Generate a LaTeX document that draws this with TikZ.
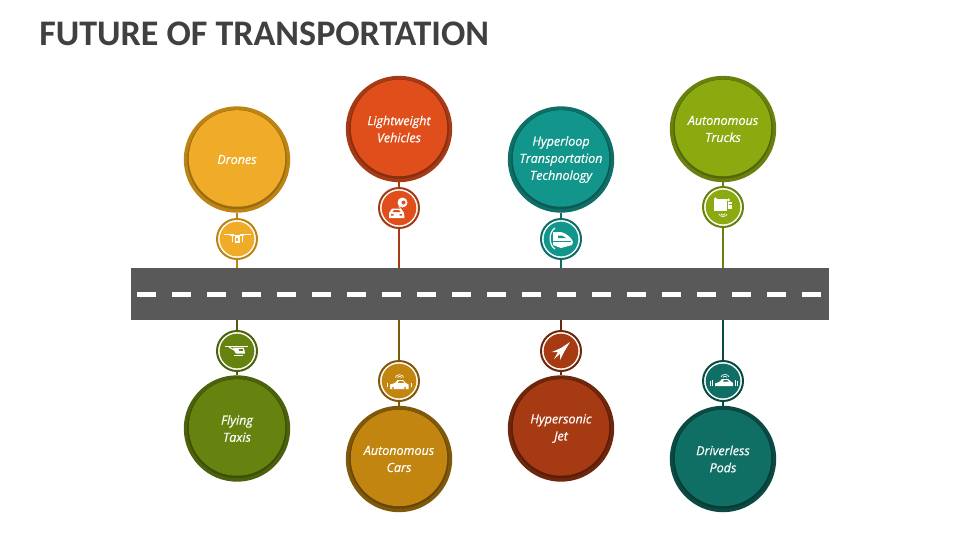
\documentclass[tikz,border=0pt]{standalone}
\usepackage{fontspec}
\setmainfont{Carlito}
\newfontfamily\labelfont[ItalicFeatures={FakeBold=0.35}]{Open Sans}
\usepackage{xcolor}
\usetikzlibrary{calc}
\definecolor{roadgrey}{HTML}{595959}
\definecolor{titlegrey}{HTML}{404040}
\definecolor{dronefill}{HTML}{F0AC28}
\definecolor{droneline}{HTML}{BE8413}
\definecolor{lightfill}{HTML}{DF4E1B}
\definecolor{lightline}{HTML}{A53A14}
\definecolor{loopfill}{HTML}{12958A}
\definecolor{loopline}{HTML}{0D6F67}
\definecolor{truckfill}{HTML}{8BAA10}
\definecolor{truckline}{HTML}{68800C}
\definecolor{taxifill}{HTML}{66830F}
\definecolor{taxiline}{HTML}{4C610B}
\definecolor{carfill}{HTML}{C2850F}
\definecolor{carline}{HTML}{80580A}
\definecolor{jetfill}{HTML}{A63A12}
\definecolor{jetline}{HTML}{6E260C}
\definecolor{podfill}{HTML}{0F6F65}
\definecolor{podline}{HTML}{0A4A43}
\tikzset{
  bigdisc/.style={circle,draw=#1line,fill=#1line!80!black,line width=2.6pt,minimum size=77.2pt,
    inner sep=0pt,align=center,text=white,font=\fontsize{9.4}{12.8}\labelfont\itshape,
    path picture={\fill[#1fill] ([yshift=0.8pt]path picture bounding box.center) circle (36.2pt);}},
  smalldisc/.style={circle,draw=#1line,fill=white,line width=1.5pt,minimum size=30pt,inner sep=0pt,
    path picture={\fill[#1fill] (path picture bounding box.center) circle (13pt);}},
  stem/.style={draw=#1line,line width=1.5pt},
  glyph/.style={fill=white,draw=none},
  glyphline/.style={draw=white,line width=0.5pt}
}
\begin{document}
\begin{tikzpicture}[x=0.75pt,y=-0.75pt]
  \useasboundingbox (0,0) rectangle (960,540);
  \node[anchor=west,text=titlegrey,font=\fontsize{27}{30}\selectfont\bfseries,inner sep=0pt] (title) at (39,34) {FUTURE OF TRANSPORTATION};
  % road
  \node[fill=roadgrey,minimum width=523.5pt,minimum height=39pt,inner sep=0pt] (road) at (480,294) {};
  \coordinate (dashstart) at (137,294.5);
  \coordinate (dashend) at (824,294.5);
  \draw[white,line width=3.75pt,dash pattern=on 14.25pt off 12pt] (dashstart) -- (dashend);
  % upper row
  \node[smalldisc=drone] (droneicon) at (237,239) {};
  \node[smalldisc=light] (lighticon) at (399,208) {};
  \node[smalldisc=loop] (loopicon) at (561,239) {};
  \node[smalldisc=truck] (truckicon) at (723,207) {};
  \node[bigdisc=drone] (drones) at (237,159.5) {Drones};
  \node[bigdisc=light] (lightweight) at (399,129) {Lightweight\\Vehicles};
  \node[bigdisc=loop] (hyperloop) at (561,159.5) {Hyperloop\\Transportation\\Technology};
  \node[bigdisc=truck] (trucks) at (723,129) {Autonomous\\Trucks};
  \draw[stem=drone] (drones) -- (droneicon);
  \draw[stem=drone] (droneicon) -- (droneicon |- road.north);
  \draw[stem=light] (lightweight) -- (lighticon);
  \draw[stem=light] (lighticon) -- (lighticon |- road.north);
  \draw[stem=loop] (hyperloop) -- (loopicon);
  \draw[stem=loop] (loopicon) -- (loopicon |- road.north);
  \draw[stem=truck] (trucks) -- (truckicon);
  \draw[stem=truck] (truckicon) -- (truckicon |- road.north);
  % lower row
  \node[smalldisc=taxi] (taxiicon) at (237,351) {};
  \node[smalldisc=car] (caricon) at (399,381) {};
  \node[smalldisc=jet] (jeticon) at (561,351) {};
  \node[smalldisc=pod] (podicon) at (723,381) {};
  \node[bigdisc=taxi] (taxis) at (237,428.5) {Flying\\Taxis};
  \node[bigdisc=car] (cars) at (399,459) {Autonomous\\Cars};
  \node[bigdisc=jet] (jet) at (561,428.5) {Hypersonic\\Jet};
  \node[bigdisc=pod] (pods) at (723,459) {Driverless\\Pods};
  \draw[stem=taxi] (taxiicon |- road.south) -- (taxiicon);
  \draw[stem=taxi] (taxiicon) -- (taxis);
  \draw[stem=car] (caricon |- road.south) -- (caricon);
  \draw[stem=car] (caricon) -- (cars);
  \draw[stem=jet] (jeticon |- road.south) -- (jeticon);
  \draw[stem=jet] (jeticon) -- (jet);
  \draw[stem=pod] (podicon |- road.south) -- (podicon);
  \draw[stem=pod] (podicon) -- (pods);
  % drone glyph
  \begin{scope}[shift={(237,239)}]
    \draw[glyphline] (-13.5,-5) -- (-3,-5) (3,-5) -- (13.5,-5);
    \fill[glyph] (-7,-4.5) rectangle (7,-3.2);
    \fill[glyph] (-2.5,-3.2) rectangle (2.5,4);
    \fill[dronefill] (-1.2,-1) rectangle (1.2,1.5);
    \draw[glyphline] (-5,-3.5) -- (-5,3) (5,-3.5) -- (5,3);
  \end{scope}
  % car and sign glyph
  \begin{scope}[shift={(399,208)}]
    \fill[glyph] (-10,5) -- (-7,0.5) -- (2,0.5) -- (5,5) -- (5.5,10) -- (-10,10) -- cycle;
    \fill[lightfill] (-6.5,4) -- (-5,2) -- (0,2) -- (1.5,4) -- cycle;
    \fill[lightfill] (-8,6) rectangle (-5.5,7.5) (0.5,6) rectangle (3,7.5);
    \fill[glyph] (3.5,-5.5) circle (5);
    \fill[glyph] (-1,-2) -- (1,-1) -- (2,1) -- cycle;
    \fill[lightfill] (4.5,-5.5) circle (2);
  \end{scope}
  % hyperloop glyph
  \begin{scope}[shift={(561,239)}]
    \draw[white,line width=0.9pt] (-6,-11) .. controls (-12.5,-7) and (-12.5,6) .. (-6,10);
    \fill[glyph] (-8,-7) -- (0,-7) .. controls (5,-6) and (11,-1) .. (12,3) -- (11,6) -- (0,9) -- (-8,6) -- cycle;
    \fill[loopfill] (-3,-3.5) -- (1,-3.5) -- (5,-1) -- (-3,-1) -- cycle;
    \fill[loopfill] (-8,1.5) rectangle (10,2.5);
  \end{scope}
  % truck glyph
  \begin{scope}[shift={(723,207)}]
    \fill[glyph] (-9,-8) rectangle (4,4);
    \fill[glyph] (5,-5) rectangle (9,1.5);
    \fill[glyph] (-7.5,-8) circle (1.7) (5.5,-7) circle (1.7);
    \fill[truckfill] (5.5,-3) rectangle (8.5,-2);
    \draw[glyphline] (-2,6.5) arc (180:0:2 and 1.5) (-4,7) arc (180:0:4 and 2.5);
  \end{scope}
  % helicopter glyph
  \begin{scope}[shift={(237,351)}]
    \draw[white,line width=0.7pt] (-12,-4.5) -- (11,-4.5);
    \fill[glyph] (-4,-3.5) -- (7,-3.5) -- (8,2.5) -- (-1,2.5) -- (-3,-0.5) -- cycle;
    \fill[taxifill] (2,-2.5) rectangle (6,-0.5);
    \draw[glyphline] (-3,4) -- (6,4);
    \draw[white,line width=0.8pt] (-8,-4) -- (-3,-1);
  \end{scope}
  % autonomous car glyph
  \begin{scope}[shift={(399,381)}]
    \fill[glyph] (-9,8) -- (-9,3.5) -- (-4,2) -- (-1.5,-1) -- (4,-1) -- (7,2) -- (9.5,3.5) -- (9.5,8) -- cycle;
    \fill[carfill] (-1,1.8) -- (0,0) -- (3.5,0) -- (5,1.8) -- cycle;
    \fill[carfill] (-6,7) circle (1.2) (6,7) circle (1.2);
    \draw[glyphline] (-1.5,-3) arc (180:360:2 and 1.5) (-3.5,-3.5) arc (180:360:4 and 2.8);
    \draw[glyphline] (-12,1.5) -- (-12,6) (12.5,1.5) -- (12.5,6);
  \end{scope}
  % jet glyph
  \begin{scope}[shift={(561,351)}]
    \fill[glyph] (9,-9) -- (0,-3) -- (-9,1) -- (-3,1) -- (-7,8) -- (-1,3) -- (-1,9) -- (3,1) -- cycle;
  \end{scope}
  % pod glyph
  \begin{scope}[shift={(723,381)}]
    \fill[glyph] (-8,5) -- (-8,2.5) -- (-4,1) -- (-1,-2) -- (5,-2) -- (8,0.5) -- (10,2) -- (10,5) -- cycle;
    \fill[podfill] (0,0.5) -- (1,-1) -- (4,-1) -- (5.5,0.5) -- cycle;
    \draw[glyphline] (0,-3.5) arc (180:360:2 and 1.2) (-2,-4) arc (180:360:4 and 2.5);
    \draw[white,line width=0.7pt] (-13,0) -- (-13,5) (-10.5,-1) -- (-10.5,5) (12,-1) -- (12,5) (14,0) -- (14,5);
  \end{scope}
\end{tikzpicture}
\end{document}
